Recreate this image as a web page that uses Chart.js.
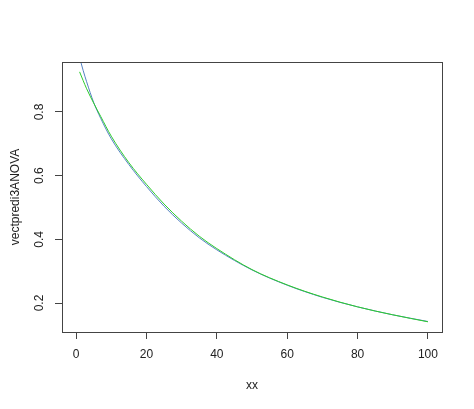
<!DOCTYPE html>
<html>
<head>
<meta charset="utf-8">
<script src="https://cdn.jsdelivr.net/npm/chart.js@4"></script>
<style>
  html, body { margin: 0; padding: 0; background: #fff; }
  #wrap { width: 474px; height: 409px; }
</style>
</head>
<body>
<div id="wrap"><canvas id="plot" width="474" height="409"></canvas></div>
<script>
// values
const xx = [1, 2, 3, 5, 7, 10, 15, 20, 25, 30, 35, 40, 50, 60, 70, 80, 90, 100];
const greenPred = [0.926, 0.899, 0.873, 0.828, 0.786, 0.724, 0.641, 0.573, 0.511, 0.457, 0.410, 0.371, 0.305, 0.257, 0.219, 0.188, 0.163, 0.141];
const bluePred  = [0.971, 0.931, 0.895, 0.830, 0.780, 0.716, 0.635, 0.566, 0.504, 0.451, 0.405, 0.367, 0.304, 0.256, 0.218, 0.188, 0.163, 0.142];
const xTicks = [0, 20, 40, 60, 80, 100];
const yTicks = [0.2, 0.4, 0.6, 0.8];

const font = { family: "'Liberation Sans', Arial, sans-serif", size: 12 };
const ink = '#222';
const axisCol = '#444';

function pts(ys) {
  return xx.map((x, i) => ({ x: x, y: ys[i] }));
}

// box round the plot region, like R's box()
const boxPlugin = {
  id: 'box',
  afterDatasetsDraw(chart) {
    const a = chart.chartArea, ctx = chart.ctx;
    ctx.save();
    ctx.strokeStyle = axisCol;
    ctx.lineWidth = 1;
    ctx.strokeRect(Math.round(a.left) + 0.5, Math.round(a.top) + 0.5,
                   Math.round(a.right - a.left), Math.round(a.bottom - a.top));
    ctx.restore();
  }
};

new Chart(document.getElementById('plot'), {
  type: 'scatter',
  data: {
    datasets: [
      { label: 'green', data: pts(greenPred), borderColor: '#2ccc2c', borderWidth: 1,
        showLine: true, pointRadius: 0, cubicInterpolationMode: 'monotone' },
      { label: 'blue', data: pts(bluePred), borderColor: '#5582c2', borderWidth: 1,
        showLine: true, pointRadius: 0, cubicInterpolationMode: 'monotone' }
    ]
  },
  options: {
    responsive: false,
    animation: false,
    events: [],
    layout: { padding: { left: 0, top: 62, right: 32, bottom: 0 } },
    plugins: { legend: { display: false }, tooltip: { enabled: false } },
    scales: {
      x: {
        type: 'linear', min: -4, max: 104,
        afterBuildTicks: s => { s.ticks = xTicks.map(v => ({ value: v })); },
        afterFit: s => { s.height = 77; },
        grid: { drawOnChartArea: false, drawTicks: true, tickLength: 7, tickColor: axisCol },
        border: { display: false },
        ticks: { font: font, color: ink, padding: 8, maxRotation: 0, autoSkip: false,
                 callback: v => String(v) },
        title: { display: true, text: 'xx', font: font, color: ink, padding: { top: 0, bottom: 16 } }
      },
      y: {
        type: 'linear', min: 0.109, max: 0.957,
        afterBuildTicks: s => { s.ticks = yTicks.map(v => ({ value: v })); },
        afterFit: s => { s.width = 62; },
        grid: { drawOnChartArea: false, drawTicks: true, tickLength: 7, tickColor: axisCol },
        border: { display: false },
        ticks: { font: font, color: ink, padding: 7, minRotation: 90, maxRotation: 90,
                 crossAlign: 'center', autoSkip: false, callback: v => v.toFixed(1) },
        title: { display: true, text: 'vectpredi3ANOVA', font: font, color: ink, padding: { top: 8, bottom: 0 } }
      }
    }
  },
  plugins: [boxPlugin]
});
</script>
</body>
</html>
